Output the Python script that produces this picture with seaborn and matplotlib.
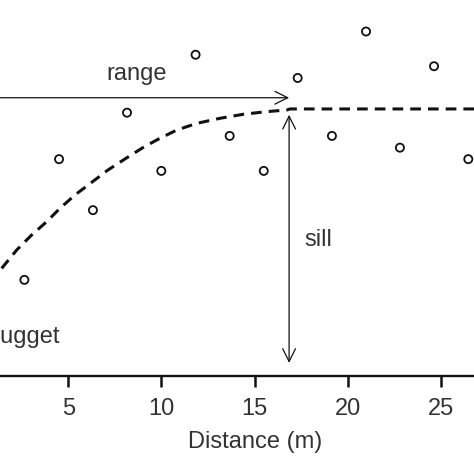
import matplotlib
matplotlib.use("Agg")
import matplotlib.pyplot as plt
import seaborn as sns
import pandas as pd

# experimental semivariogram (lag distance in m, semivariance relative to sill)
lag_distance = [2.64, 4.50, 6.32, 8.15, 9.99, 11.83, 13.66, 15.49, 17.31, 19.15, 20.98, 22.80, 24.63, 26.47]
semivariance = [0.360, 0.812, 0.621, 0.986, 0.768, 1.203, 0.899, 0.768, 1.116, 0.899, 1.290, 0.855, 1.160, 0.812]

# fitted model curve
model_distance = [1.42, 2.23, 3.03, 3.84, 4.55, 5.36, 6.25, 7.14, 8.09, 9.02, 9.83,
                  10.82, 11.89, 13.14, 14.39, 15.65, 16.72, 16.90, 30.0]
model_gamma = [0.403, 0.472, 0.528, 0.578, 0.628, 0.678, 0.725, 0.772, 0.815, 0.856, 0.887,
               0.921, 0.946, 0.965, 0.980, 0.990, 0.996, 1.0, 1.0]

range_value = 16.85
sill_value = 0.978
x_ticks = [5, 10, 15, 20, 25]

points = pd.DataFrame({"distance": lag_distance, "gamma": semivariance})
model = pd.DataFrame({"distance": model_distance, "gamma": model_gamma})

sns.set_style("ticks")
plt.rcParams["font.family"] = ["Liberation Sans", "DejaVu Sans"]
text_color = "#333333"
fs = 17

fig = plt.figure(figsize=(4.74, 4.74), dpi=100)
ax = fig.add_axes([-0.0523, 0.2068, 1.179, 0.7932])

sns.lineplot(data=model, x="distance", y="gamma", ax=ax, color="#111111",
             linewidth=2.2, linestyle=(0, (3.5, 2.3)), sort=False)
sns.scatterplot(data=points, x="distance", y="gamma", ax=ax, marker="o",
                s=34, facecolor="none", edgecolor="#111111", linewidth=1.3)

ax.set_xlim(0, 30)
ax.set_ylim(0, 1.408)
ax.set_xticks(x_ticks)
ax.set_yticks([])
ax.set_xlabel("Distance (m)", fontsize=fs, color=text_color, labelpad=7.5)
ax.set_ylabel("")
ax.tick_params(axis="x", direction="out", length=8, width=1.8, pad=8,
               labelsize=fs, labelcolor=text_color, color="#111111")
for side in ["top", "right"]:
    ax.spines[side].set_visible(False)
ax.spines["bottom"].set_linewidth(1.7)
ax.spines["bottom"].set_color("#111111")

arrow = dict(arrowstyle="->", color="#111111", lw=0.9, shrinkA=0, shrinkB=0,
             mutation_scale=23)
ax.annotate("", xy=(range_value, 1.042), xytext=(-2, 1.042), arrowprops=arrow)
sill_arrow = dict(arrow, arrowstyle="<->")
ax.annotate("", xy=(range_value, sill_value), xytext=(range_value, 0.049),
            arrowprops=sill_arrow)

ax.text(8.68, 1.109, "range", ha="center", va="baseline", fontsize=fs, color=text_color)
ax.text(17.65, 0.487, "sill", ha="left", va="baseline", fontsize=fs, color=text_color)
ax.text(0.63, 0.124, "nugget", ha="left", va="baseline", fontsize=fs, color=text_color)

plt.savefig("out.png", dpi=100)
plt.close()
